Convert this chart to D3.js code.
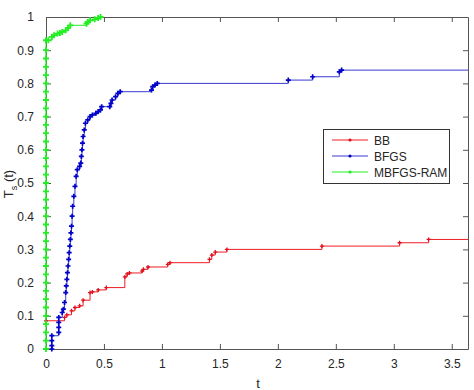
<!DOCTYPE html>
<html><head><meta charset="utf-8">
<script src="https://cdn.jsdelivr.net/npm/d3@7"></script>
<style>
body{margin:0;background:#fff;}
svg{display:block;font-family:"Liberation Sans",Arial,sans-serif;}
</style></head>
<body><svg id="c" width="474" height="390"></svg>
<script>
// ---- data ----
const xTicks = [0, 0.5, 1, 1.5, 2, 2.5, 3, 3.5];
const yTicks = [0, 0.1, 0.2, 0.3, 0.4, 0.5, 0.6, 0.7, 0.8, 0.9, 1];
const seriesNames = ["BB", "BFGS", "MBFGS-RAM"];

const bbT = [0, 0.16, 0.18, 0.22, 0.25, 0.29, 0.32, 0.38, 0.40, 0.45, 0.52, 0.68, 0.70, 0.72, 0.83, 0.84, 0.88, 1.05, 1.07, 1.41, 1.43, 1.46, 1.56, 2.38, 3.05, 3.30, 3.64];
const bbR = [0.085, 0.095, 0.103, 0.115, 0.125, 0.13, 0.147, 0.17, 0.172, 0.178, 0.185, 0.217, 0.226, 0.229, 0.235, 0.24, 0.247, 0.255, 0.26, 0.27, 0.283, 0.292, 0.30, 0.31, 0.32, 0.33, 0.33];

const bfgsT = [0.05,0.05,0.05,0.05, 0.11,0.11,0.11,0.11, 0.14,0.15,0.16,0.17,0.175,0.18,0.185,0.19,0.195,0.20,0.205,0.21,0.215,0.22,0.225,0.23,0.24,0.25,
  0.26,0.27,0.29,0.30,0.305,0.31,0.315,0.32,0.33,0.34, 0.36,0.38,0.40,0.43,0.45,0.47,0.48, 0.55,0.56,0.57,0.60,0.62,0.64, 0.91,0.92,0.94,0.96, 2.09,2.30,2.53,2.55,3.64];
const bfgsR = [0,0.01,0.025,0.04, 0.05,0.065,0.08,0.095, 0.11,0.12,0.14,0.17,0.19,0.21,0.23,0.25,0.27,0.29,0.31,0.33,0.35,0.37,0.40,0.43,0.46,0.49,
  0.52,0.54,0.55,0.56,0.58,0.60,0.62,0.64,0.66,0.68, 0.69,0.70,0.705,0.71,0.715,0.72,0.73, 0.73,0.74,0.75,0.76,0.77,0.775, 0.78,0.79,0.795,0.80, 0.81,0.82,0.835,0.84,0.84];

// MBFGS-RAM: values reached at t = 0, then the remaining steps
const ramZeroR = [0, 0.025, 0.05, 0.075, 0.1, 0.125, 0.15, 0.175, 0.2, 0.225, 0.25, 0.275, 0.3, 0.325, 0.35, 0.375, 0.4, 0.425, 0.45, 0.475,
  0.5, 0.525, 0.55, 0.575, 0.6, 0.625, 0.65, 0.675, 0.7, 0.725, 0.75, 0.775, 0.8, 0.825, 0.85, 0.875, 0.9, 0.93];
const ramT = [0.02, 0.05, 0.07, 0.10, 0.12, 0.14, 0.17, 0.19, 0.21, 0.35, 0.36, 0.38, 0.42, 0.45, 0.47];
const ramR = [0.93, 0.94, 0.945, 0.95, 0.952, 0.955, 0.96, 0.967, 0.975, 0.98, 0.985, 0.99, 0.993, 0.997, 1.0];

// ---- build ----
const zip = (T, R) => T.map((t, i) => ({t, r: R[i]}));
const series = [
  {name: seriesNames[0], pts: zip(bbT, bbR), line: "#ee1c24", mark: "#e0101c", arm: 2, sw: 1.3},
  {name: seriesNames[1], pts: zip(bfgsT, bfgsR), line: "#3a3ad0", mark: "#0000c8", arm: 2.5, sw: 1.7},
  {name: seriesNames[2], pts: ramZeroR.map(r => ({t: 0, r})).concat(zip(ramT, ramR)), line: "#22ee22", mark: "#22ee22", arm: 3, sw: 1.8}
];

const svg = d3.select("#c");
const x = d3.scaleLinear().domain([0, 3.64]).range([46, 468]);
const y = d3.scaleLinear().domain([0, 1]).range([349, 17]);

svg.append("rect").attr("x", 46).attr("y", 17).attr("width", 422).attr("height", 332).attr("fill", "#fff");

const axisCol = "#555";
function styleAxis(g) {
  g.selectAll("path.domain").attr("stroke", axisCol).attr("stroke-width", 1);
  g.selectAll(".tick line").attr("stroke", axisCol).attr("stroke-width", 1);
  g.selectAll(".tick text").attr("fill", "#262626").attr("font-size", 12).attr("font-family", "Liberation Sans, Arial, sans-serif");
}
svg.append("g").attr("transform", "translate(0,349)")
  .call(d3.axisBottom(x).tickValues(xTicks).tickSizeInner(-5).tickSizeOuter(0).tickPadding(10).tickFormat(d3.format("")))
  .call(styleAxis);
svg.append("g").attr("transform", "translate(0,17)")
  .call(d3.axisTop(x).tickValues(xTicks).tickSizeInner(-5).tickSizeOuter(0).tickFormat(""))
  .call(styleAxis);
svg.append("g").attr("transform", "translate(46,0)")
  .call(d3.axisLeft(y).tickValues(yTicks).tickSizeInner(-5).tickSizeOuter(0).tickPadding(12).tickFormat(d3.format("")))
  .call(styleAxis);
svg.append("g").attr("transform", "translate(468,0)")
  .call(d3.axisRight(y).tickValues(yTicks).tickSizeInner(-5).tickSizeOuter(0).tickFormat(""))
  .call(styleAxis);

const line = d3.line().x(d => x(d.t)).y(d => y(d.r)).curve(d3.curveStepAfter);
const plot = svg.append("g");
function marker(g, cx, cy, s) {
  g.append("path")
    .attr("d", `M${cx - s.arm},${cy}H${cx + s.arm}M${cx},${cy - s.arm}V${cy + s.arm}`)
    .attr("stroke", s.mark).attr("stroke-width", s.sw).attr("fill", "none");
}
series.forEach(s => {
  plot.append("path").datum(s.pts).attr("d", line)
    .attr("fill", "none").attr("stroke", s.line).attr("stroke-width", 1);
  const mg = plot.append("g");
  s.pts.filter(d => d.t < 3.6).forEach(d => marker(mg, x(d.t), y(d.r), s));
});

// labels
svg.append("text").attr("x", 258).attr("y", 388).attr("text-anchor", "middle")
  .attr("font-size", 13).attr("fill", "#262626").text("t");
const yl = svg.append("text").attr("transform", "translate(13,184) rotate(-90)")
  .attr("text-anchor", "middle").attr("font-size", 13).attr("fill", "#262626");
yl.append("tspan").text("T");
yl.append("tspan").attr("font-size", 9).attr("dy", 4).text("s");
yl.append("tspan").attr("dy", -4).text(" (t)");

// legend
const lg = svg.append("g");
lg.append("rect").attr("x", 323.5).attr("y", 129.5).attr("width", 126).attr("height", 54)
  .attr("fill", "#fff").attr("stroke", "#333").attr("stroke-width", 1);
series.forEach((s, i) => {
  const ly = 140 + i * 16;
  lg.append("line").attr("x1", 332).attr("x2", 368).attr("y1", ly).attr("y2", ly)
    .attr("stroke", s.line).attr("stroke-width", 1);
  lg.append("circle").attr("cx", 350).attr("cy", ly).attr("r", 1.6).attr("fill", s.mark);
  lg.append("text").attr("x", 374).attr("y", ly + 4.5).attr("font-size", 12).attr("fill", "#262626").text(s.name);
});
</script></body></html>
